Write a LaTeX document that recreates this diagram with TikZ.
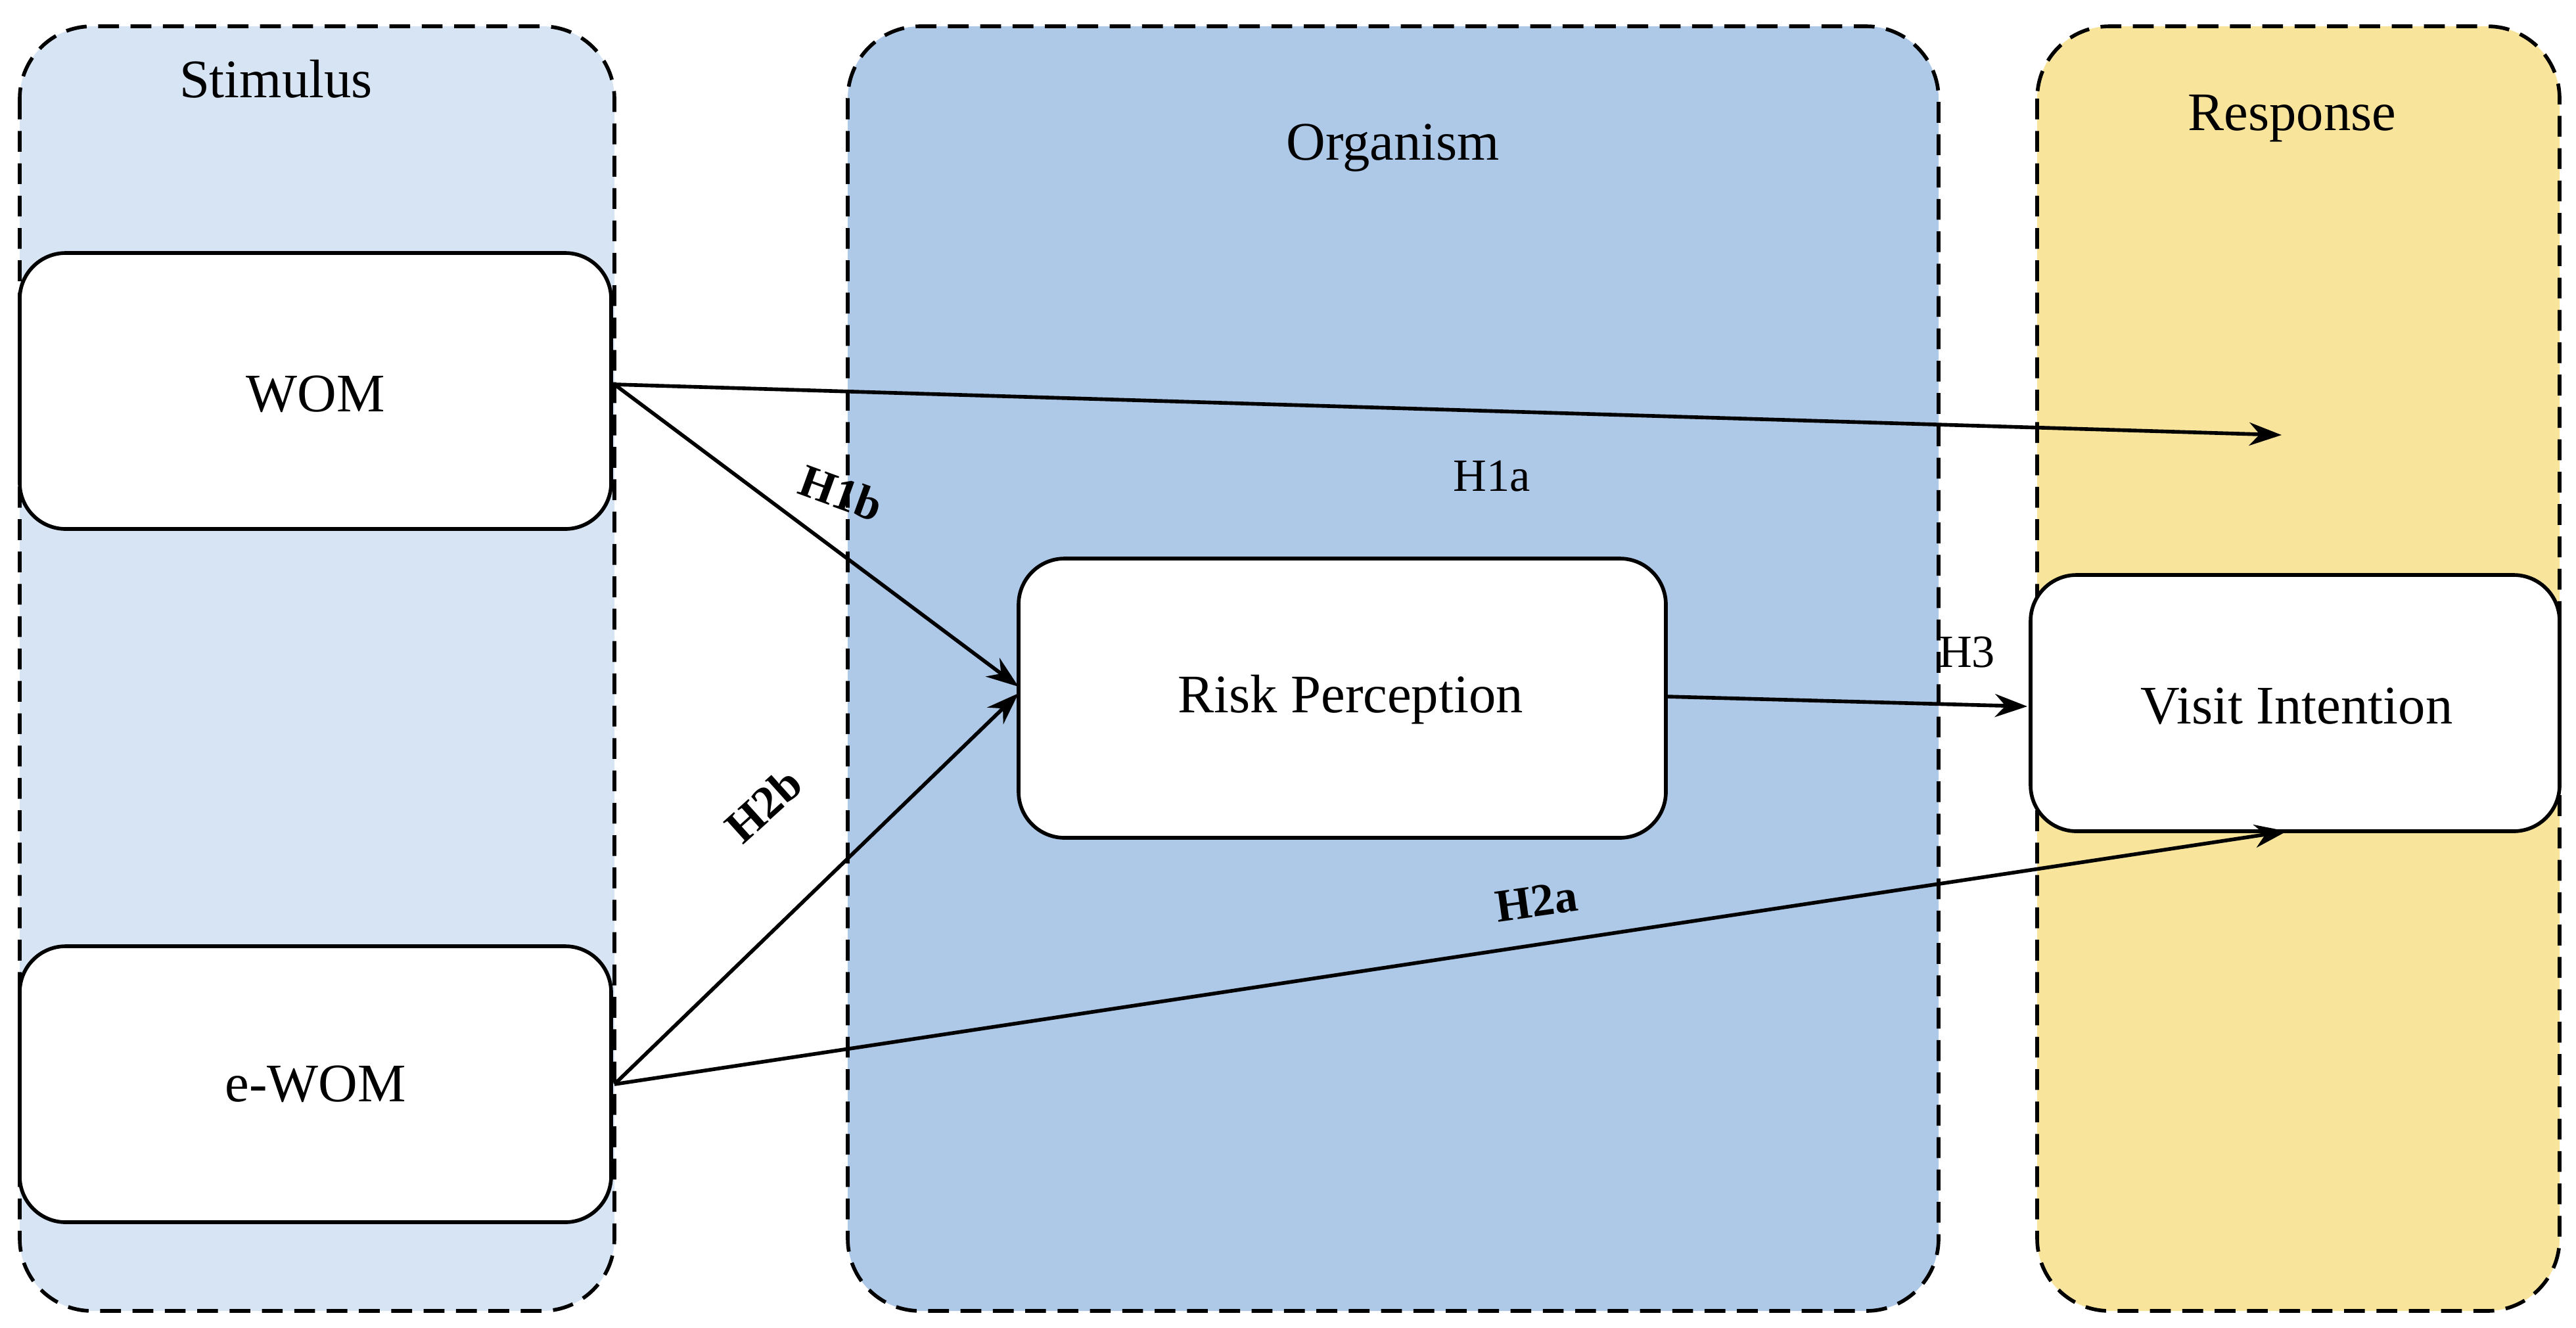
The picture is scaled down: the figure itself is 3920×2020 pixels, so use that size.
\documentclass[tikz,border=0pt]{standalone}
\usepackage{fontspec}
\setmainfont{Liberation Serif}
\usetikzlibrary{arrows.meta}
\begin{document}
\begin{tikzpicture}[x=0.01cm,y=-0.01cm,
 panel/.style={draw=black,line width=1.6pt,dash pattern=on 9pt off 5pt,rounded corners=1.1cm},
 box/.style={draw=black,fill=white,line width=1.6pt,rounded corners=0.7cm},
 lab/.style={font=\fontsize{23.5}{27}\selectfont},
 hyp/.style={font=\fontsize{20}{24}\selectfont},
 arr/.style={line width=1.6pt,-{Stealth[length=14pt,width=10pt]}}]
\useasboundingbox (0,0) rectangle (3920,2020);
\definecolor{stim}{HTML}{D7E4F4}
\definecolor{org}{HTML}{AEC8E8}
\definecolor{resp}{HTML}{F9E49C}
\draw[panel,fill=stim] (30,40) rectangle (935,1995);
\draw[panel,fill=org] (1290,40) rectangle (2950,1995);
\draw[panel,fill=resp] (3100,40) rectangle (3895,1995);
\node[lab] (ts) at (420,120) {Stimulus};
\node[lab] (to) at (2120,225) {Organism};
\node[lab] (tr) at (3488,180) {Response};
\draw[box] (30,385) rectangle (930,805);
\node[lab] (wom) at (480,600) {WOM};
\draw[box] (30,1440) rectangle (930,1860);
\node[lab] (ewom) at (480,1650) {e-WOM};
\draw[box] (1550,850) rectangle (2535,1275);
\node[lab] (rp) at (2055,1065) {Risk Perception};
\draw[box] (3090,875) rectangle (3895,1265);
\node[lab] (vi) at (3495,1075) {Visit Intention};
\coordinate (wo) at (935,585);
\coordinate (eo) at (935,1650);
\coordinate (rin1) at (1550,1045);
\coordinate (rin2) at (1550,1055);
\coordinate (rout) at (2535,1060);
\coordinate (vin) at (3085,1075);
\coordinate (vtop) at (3472,662);
\coordinate (vbot) at (3480,1265);
\draw[arr] (wo) -- (vtop);
\draw[arr] (wo) -- (rin1);
\draw[arr] (eo) -- (rin2);
\draw[arr] (eo) -- (vbot);
\draw[arr] (rout) -- (vin);
\node[hyp] (h1a) at (2270,725) {H1a};
\node[hyp,rotate=-20] (h1b) at (1280,750) {\textbf{H1b}};
\node[hyp,rotate=42] (h2b) at (1162,1225) {\textbf{H2b}};
\node[hyp,rotate=8] (h2a) at (2338,1372) {\textbf{H2a}};
\node[hyp] (h3) at (2993,993) {H3};
\end{tikzpicture}
\end{document}
